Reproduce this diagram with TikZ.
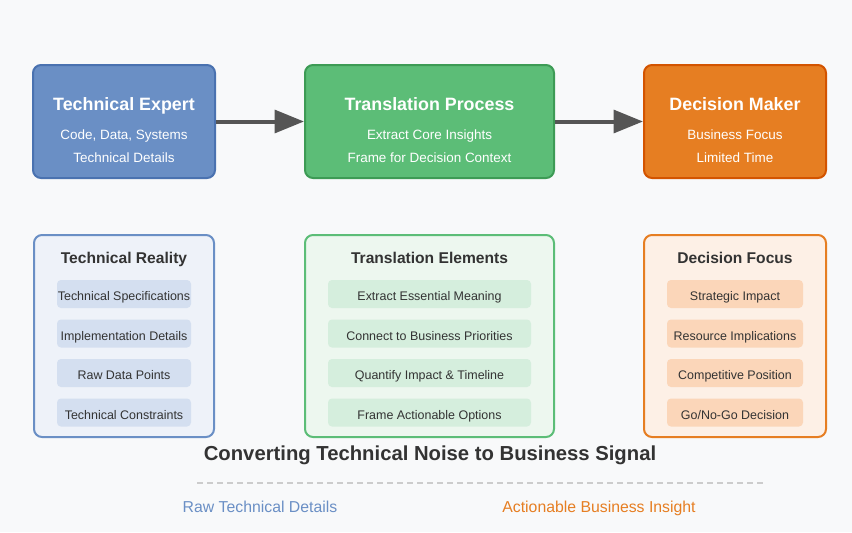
\documentclass[tikz,border=0pt]{standalone}
\usepackage{fontspec}
\setmainfont{Liberation Sans}
\usetikzlibrary{arrows.meta}
\definecolor{bg}{HTML}{F8F9FA}
\definecolor{bluef}{HTML}{6A8FC5}
\definecolor{blued}{HTML}{4A72B0}
\definecolor{greenf}{HTML}{5CBD77}
\definecolor{greend}{HTML}{3D9B55}
\definecolor{orangef}{HTML}{E67E22}
\definecolor{oranged}{HTML}{D35400}
\definecolor{bluebg}{HTML}{EEF2F9}
\definecolor{greenbg}{HTML}{EDF7EF}
\definecolor{orangebg}{HTML}{FDF0E6}
\definecolor{bluepill}{HTML}{D4DFF0}
\definecolor{greenpill}{HTML}{D5EEDD}
\definecolor{orangepill}{HTML}{FBD6B9}
\definecolor{txt}{HTML}{333333}
\definecolor{arr}{HTML}{555555}
\definecolor{dashgray}{HTML}{CCCCCC}
\newcommand{\pxf}[1]{\fontsize{#1pt}{#1pt}\selectfont}
\begin{document}
\begin{tikzpicture}[x=0.75pt,y=-0.75pt,
  lbl/.style={inner sep=0pt, text height=0.72em, text depth=0.0em, yshift=-1.4pt},
  topbox/.style={rounded corners=6pt, line width=1.5pt, minimum width=#1*0.75pt, minimum height=113*0.75pt, inner sep=0pt},
  lowbox/.style={rounded corners=6pt, line width=1.5pt, minimum width=#1*0.75pt, minimum height=202*0.75pt, inner sep=0pt},
  pill/.style={rounded corners=3pt, minimum width=#1*0.75pt, minimum height=28*0.75pt, inner sep=0pt},
  pilltext/.style={lbl, text=txt, font=\pxf{9.35}},
  toptitle/.style={lbl, text=white, font=\bfseries\pxf{13.4}},
  topsub/.style={lbl, text=white, font=\pxf{10.1}},
  lowtitle/.style={lbl, text=txt, font=\bfseries\pxf{11.7}},
  flow/.style={draw=arr, line width=3pt, -{Triangle[length=22pt,width=17pt]}}]
\fill[bg] (0,0) rectangle (852,532);
\useasboundingbox (0,0) rectangle (852,532);
% top boxes
\node[topbox=182, fill=bluef, draw=blued] (te) at (124,121.5) {};
\node[topbox=249, fill=greenf, draw=greend] (tp) at (429.5,121.5) {};
\node[topbox=182, fill=orangef, draw=oranged] (dm) at (735,121.5) {};
\node[toptitle] (teT) at (124,104) {Technical Expert};
\node[topsub] (teA) at (124,133) {Code, Data, Systems};
\node[topsub] (teB) at (124,156) {Technical Details};
\node[toptitle] (tpT) at (429.5,104) {Translation Process};
\node[topsub] (tpA) at (429.5,133) {Extract Core Insights};
\node[topsub] (tpB) at (429.5,156) {Frame for Decision Context};
\node[toptitle] (dmT) at (735,104) {Decision Maker};
\node[topsub] (dmA) at (735,133) {Business Focus};
\node[topsub] (dmB) at (735,156) {Limited Time};
\draw[flow] (te.east) -- (tp.west);
\draw[flow] (tp.east) -- (dm.west);
% lower boxes
\node[lowbox=180, fill=bluebg, draw=bluef] (tr) at (124,336) {};
\node[lowbox=249, fill=greenbg, draw=greenf] (tl) at (429.5,336) {};
\node[lowbox=182, fill=orangebg, draw=orangef] (df) at (735,336) {};
\node[lowtitle] (trT) at (124,257) {Technical Reality};
\node[lowtitle] (tlT) at (429.5,257) {Translation Elements};
\node[lowtitle] (dfT) at (735,257) {Decision Focus};
\foreach \nm/\cx/\w/\col/\a/\b/\c/\d in {tr/124/134/bluepill/{Technical Specifications}/{Implementation Details}/{Raw Data Points}/{Technical Constraints},
  tl/429.5/203/greenpill/{Extract Essential Meaning}/{Connect to Business Priorities}/{Quantify Impact \& Timeline}/{Frame Actionable Options},
  df/735/136/orangepill/{Strategic Impact}/{Resource Implications}/{Competitive Position}/{Go/No-Go Decision}}{
  \node[pill=\w, fill=\col] (\nm1) at (\cx,294) {};
  \node[pilltext] at (\nm1) {\a};
  \node[pill=\w, fill=\col] (\nm2) at (\cx,333.5) {};
  \node[pilltext] at (\nm2) {\b};
  \node[pill=\w, fill=\col] (\nm3) at (\cx,373) {};
  \node[pilltext] at (\nm3) {\c};
  \node[pill=\w, fill=\col] (\nm4) at (\cx,412.5) {};
  \node[pilltext] at (\nm4) {\d};
}
% bottom
\node[lbl, text=txt, font=\bfseries\pxf{15.2}] (title) at (430,454) {Converting Technical Noise to Business Signal};
\coordinate (dl) at (197,483);
\coordinate (dr) at (764,483);
\draw[dashgray, line width=1.5pt, dash pattern=on 4.5pt off 3pt] (dl) -- (dr);
\node[lbl, text=bluef, font=\pxf{11.85}] (raw) at (260,506) {Raw Technical Details};
\node[lbl, text=orangef, font=\pxf{11.85}] (act) at (599,506) {Actionable Business Insight};
\end{tikzpicture}
\end{document}
